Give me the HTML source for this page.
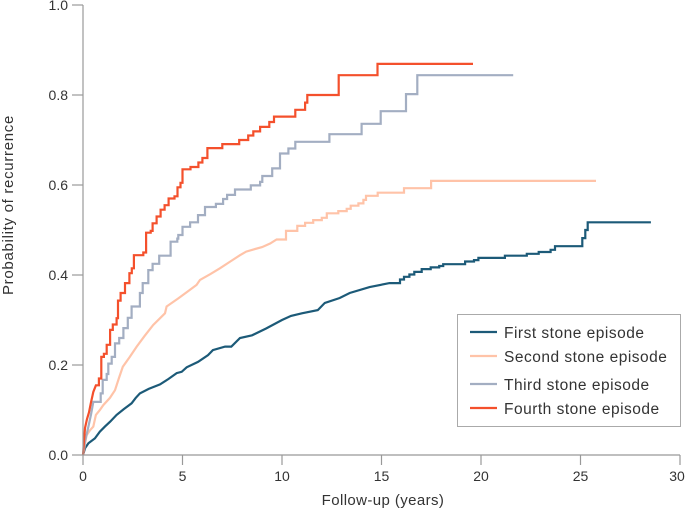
<!DOCTYPE html>
<html lang="en">
<head>
<meta charset="utf-8">
<title>Probability of recurrence by stone episode</title>
<style>
html,body{margin:0;padding:0;background:#fff;}
svg{display:block;}
text{font-family:"Liberation Sans",sans-serif;fill:#333;}
.tick-label{font-size:14px;}
.x-title{font-size:15px;letter-spacing:.4px;}
.y-title{font-size:15px;letter-spacing:.7px;}
.legend-label{font-size:15.5px;letter-spacing:.5px;}
</style>
</head>
<body>
<svg id="chart" width="685" height="510" viewBox="0 0 685 510" xmlns="http://www.w3.org/2000/svg">
  <g id="series"></g>
  <g id="axes"></g>
  <text class="x-title" x="383" y="505" text-anchor="middle">Follow-up (years)</text>
  <text class="y-title" transform="translate(13,205) rotate(-90)" text-anchor="middle">Probability of recurrence</text>
  <g>
    <rect x="457.5" y="314.5" width="223" height="112" fill="#fff" stroke="#aaa" stroke-width="1"/>
    <line x1="470" x2="497" y1="332" y2="332" stroke="#1c5a78" stroke-width="2.2"/>
    <text class="legend-label" x="504" y="338">First stone episode</text>
    <line x1="470" x2="497" y1="356" y2="356" stroke="#ffc3a8" stroke-width="2.2"/>
    <text class="legend-label" x="504" y="362">Second stone episode</text>
    <line x1="470" x2="497" y1="384" y2="384" stroke="#a3aec2" stroke-width="2.2"/>
    <text class="legend-label" x="504" y="390">Third stone episode</text>
    <line x1="470" x2="497" y1="408" y2="408" stroke="#f4502c" stroke-width="2.2"/>
    <text class="legend-label" x="504" y="414">Fourth stone episode</text>
  </g>
</svg>
<script>
var xTicks = [0, 5, 10, 15, 20, 25, 30];
var yTicks = ["0.0", "0.2", "0.4", "0.6", "0.8", "1.0"];

var firstYears = [0, 0.1, 0.27, 0.6, 0.85, 1.1, 1.36, 1.69, 2.05, 2.44, 2.65, 2.86, 3.3, 3.87, 4.3, 4.71, 4.96, 5.21, 5.78, 6.28, 6.53, 7.14, 7.45, 7.89, 8.5, 9.2, 10, 10.45, 11, 11.8, 12.15, 12.9, 13.4, 14.4, 15.4, 15.93, 16.13, 16.4, 16.65, 17.02, 17.47, 17.9, 18.1, 19.2, 19.65, 19.87, 21.2, 22.3, 22.9, 23.5, 23.72, 25.09, 25.24, 25.36, 28.54];
var firstValues = [0, 0.015, 0.026, 0.037, 0.052, 0.063, 0.074, 0.089, 0.102, 0.115, 0.127, 0.137, 0.147, 0.157, 0.169, 0.182, 0.185, 0.195, 0.207, 0.222, 0.233, 0.241, 0.241, 0.26, 0.266, 0.281, 0.3, 0.309, 0.315, 0.322, 0.338, 0.349, 0.36, 0.373, 0.382, 0.39, 0.396, 0.401, 0.407, 0.413, 0.417, 0.42, 0.424, 0.43, 0.433, 0.438, 0.443, 0.447, 0.451, 0.456, 0.464, 0.482, 0.5, 0.517, 0.517];

var secondYears = [0, 0.18, 0.35, 0.52, 0.65, 0.85, 1.02, 1.35, 1.61, 1.8, 2.0, 2.35, 2.7, 3.1, 3.53, 4.12, 4.2, 4.79, 5.25, 5.71, 5.88, 6.4, 6.88, 7.4, 7.89, 8.2, 8.6, 9.0, 9.4, 9.73, 10.2, 10.77, 11.16, 11.57, 12.0, 12.25, 12.83, 13.25, 13.45, 13.84, 14.09, 14.22, 14.81, 16.13, 17.49, 25.78];
var secondValues = [0, 0.044, 0.055, 0.063, 0.089, 0.1, 0.111, 0.127, 0.144, 0.17, 0.196, 0.218, 0.241, 0.265, 0.289, 0.315, 0.33, 0.348, 0.363, 0.378, 0.389, 0.402, 0.415, 0.43, 0.444, 0.452, 0.457, 0.462, 0.47, 0.479, 0.498, 0.509, 0.516, 0.522, 0.527, 0.537, 0.542, 0.547, 0.554, 0.559, 0.567, 0.576, 0.583, 0.593, 0.609, 0.609];

var thirdYears = [0, 0.1, 0.27, 0.4, 0.52, 0.89, 0.99, 1.19, 1.27, 1.44, 1.61, 1.82, 2.03, 2.25, 2.44, 2.86, 3.0, 3.28, 3.5, 3.83, 4.4, 4.74, 4.79, 5.0, 5.38, 5.78, 6.13, 6.68, 7.04, 7.24, 7.64, 8.43, 8.9, 9.01, 9.51, 9.9, 10.32, 10.67, 12.38, 14.0, 14.96, 16.23, 16.8, 21.62];
var thirdValues = [0, 0.03, 0.063, 0.09, 0.118, 0.137, 0.167, 0.18, 0.203, 0.218, 0.248, 0.26, 0.282, 0.305, 0.33, 0.36, 0.382, 0.411, 0.425, 0.443, 0.474, 0.481, 0.489, 0.507, 0.517, 0.533, 0.551, 0.558, 0.569, 0.578, 0.59, 0.599, 0.607, 0.62, 0.637, 0.67, 0.681, 0.696, 0.713, 0.736, 0.764, 0.802, 0.844, 0.844];

var fourthYears = [0, 0.05, 0.1, 0.2, 0.3, 0.39, 0.52, 0.65, 0.8, 0.92, 1.05, 1.19, 1.36, 1.5, 1.69, 1.76, 1.89, 2.11, 2.33, 2.45, 2.56, 3.03, 3.17, 3.4, 3.5, 3.7, 3.9, 4.1, 4.3, 4.6, 4.75, 4.9, 5.0, 5.4, 5.8, 6.0, 6.25, 7.0, 7.85, 8.3, 8.56, 8.9, 9.36, 9.6, 10.67, 11.16, 11.27, 12.85, 14.8, 19.6];
var fourthValues = [0, 0.03, 0.06, 0.08, 0.095, 0.115, 0.14, 0.155, 0.17, 0.218, 0.225, 0.245, 0.278, 0.29, 0.304, 0.343, 0.36, 0.382, 0.404, 0.415, 0.444, 0.45, 0.494, 0.498, 0.515, 0.53, 0.545, 0.555, 0.57, 0.575, 0.595, 0.605, 0.635, 0.64, 0.65, 0.66, 0.682, 0.691, 0.7, 0.71, 0.719, 0.729, 0.74, 0.752, 0.767, 0.783, 0.8, 0.844, 0.869, 0.869];

var SVGNS = "http://www.w3.org/2000/svg";
function xScale(t) { return 83 + 19.9 * t; }
function yScale(v) { return 455 - 450 * v; }

// Curves read as smooth while events are dense: join those points directly,
// then switch to steps once `smoothUntil` years have passed.
function stepPath(years, values, smoothUntil) {
  var d = "M" + xScale(years[0]).toFixed(1) + " " + yScale(values[0]).toFixed(1);
  for (var i = 1; i < years.length; i++) {
    if (years[i] <= smoothUntil) {
      d += "L" + xScale(years[i]).toFixed(1) + " " + yScale(values[i]).toFixed(1);
    } else {
      d += "H" + xScale(years[i]).toFixed(1) + "V" + yScale(values[i]).toFixed(1);
    }
  }
  return d;
}

var seriesGroup = document.getElementById("series");
var axesGroup = document.getElementById("axes");

function drawSeries(name, years, values, color, smoothUntil) {
  var path = document.createElementNS(SVGNS, "path");
  
  
  path.setAttribute("d", stepPath(years, values, smoothUntil));
  path.setAttribute("fill", "none");
  path.setAttribute("stroke", color);
  path.setAttribute("stroke-width", "2.2");
  path.setAttribute("stroke-linejoin", "miter");
  seriesGroup.appendChild(path);
}

drawSeries("first-stone-episode-line", firstYears, firstValues, "#1c5a78", 15.4);
drawSeries("second-stone-episode-line", secondYears, secondValues, "#ffc3a8", 9.73);
drawSeries("third-stone-episode-line", thirdYears, thirdValues, "#a3aec2", 0.52);
drawSeries("fourth-stone-episode-line", fourthYears, fourthValues, "#f4502c", 0.65);

function addLine(name, x1, y1, x2, y2) {
  var line = document.createElementNS(SVGNS, "line");
  
  
  line.setAttribute("x1", x1);
  line.setAttribute("y1", y1);
  line.setAttribute("x2", x2);
  line.setAttribute("y2", y2);
  line.setAttribute("stroke", "#999");
  line.setAttribute("stroke-width", "1.2");
  axesGroup.insertBefore(line, axesGroup.firstChild);
}

function addLabel(name, x, y, anchor, content) {
  var label = document.createElementNS(SVGNS, "text");
  
  
  label.setAttribute("class", "tick-label");
  label.setAttribute("x", x);
  label.setAttribute("y", y);
  label.setAttribute("text-anchor", anchor);
  label.textContent = content;
  axesGroup.appendChild(label);
}

addLine("x-axis-line", xScale(0), yScale(0), xScale(30), yScale(0));
addLine("y-axis-line", xScale(0), yScale(1), xScale(0), yScale(0));

xTicks.forEach(function (t) {
  addLine("x-axis-tick", xScale(t), yScale(0), xScale(t), yScale(0) + 10);
  addLabel("x-axis-tick-label", Math.min(xScale(t), 677), 481, "middle", String(t));
});

yTicks.forEach(function (s) {
  var v = parseFloat(s);
  addLine("y-axis-tick", xScale(0) - 11, yScale(v), xScale(0), yScale(v));
  addLabel("y-axis-tick-label", 68, yScale(v) + 5, "end", s);
});
</script>
</body>
</html>
